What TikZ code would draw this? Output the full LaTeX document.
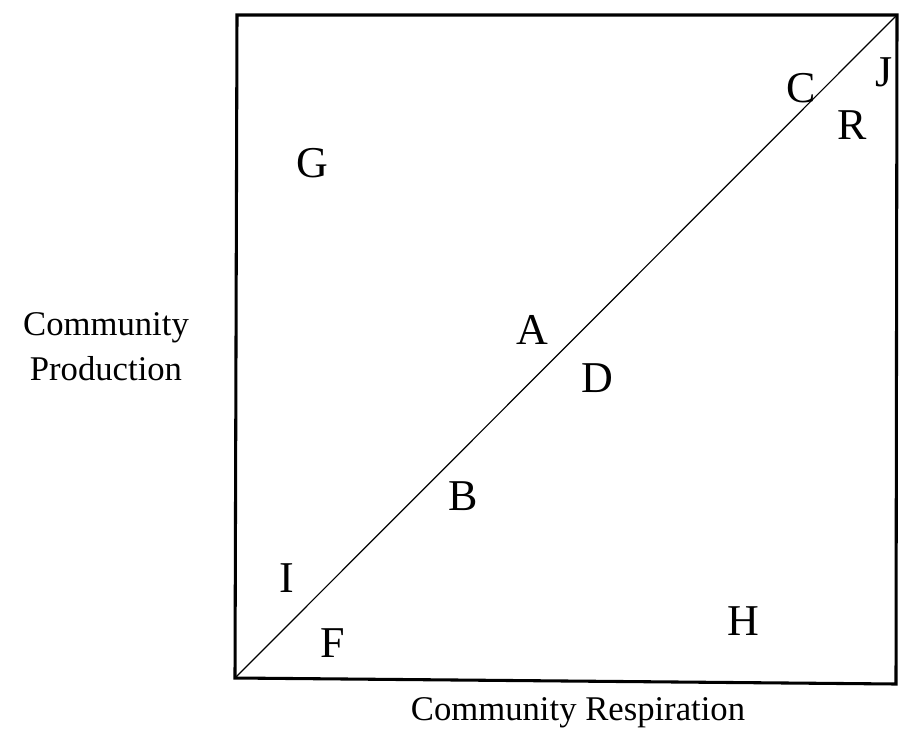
\documentclass[tikz,border=0pt]{standalone}
\usepackage{fontspec}
\setmainfont{Liberation Serif}
\begin{document}
\begin{tikzpicture}[x=0.75pt,y=-0.75pt,
  lbl/.style={font=\fontsize{33}{36}\selectfont,inner sep=0pt},
  axl/.style={font=\fontsize{26}{34}\selectfont,inner sep=0pt,align=center}]
\useasboundingbox (0,0) rectangle (908,740);
\coordinate (tl) at (237,15);
\coordinate (tr) at (897,15);
\coordinate (br) at (896,684);
\coordinate (bl) at (235,678);
\draw[line width=2.3pt,line join=miter] (tl) -- (tr) -- (br) -- (bl) -- cycle;
\draw[line width=0.9pt] (bl) -- (tr);
\node[lbl] (G) at (312,163) {G};
\node[lbl] (C) at (801,88) {C};
\node[lbl] (J) at (884,72) {J};
\node[lbl] (R) at (852,125) {R};
\node[lbl] (A) at (532,330) {A};
\node[lbl] (D) at (597,378) {D};
\node[lbl] (B) at (463,496) {B};
\node[lbl] (I) at (287,578) {I};
\node[lbl] (F) at (333,643) {F};
\node[lbl] (H) at (743,621) {H};
\node[axl] (P) at (106,347) {Community\\Production};
\node[axl] (Rs) at (578,713) {Community Respiration};
\end{tikzpicture}
\end{document}
